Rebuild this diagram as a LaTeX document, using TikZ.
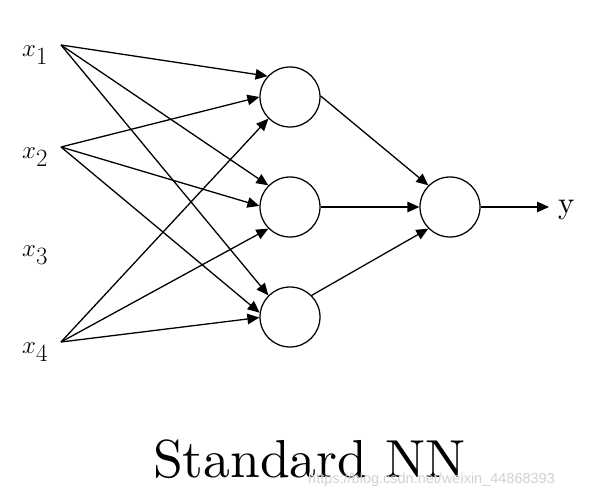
\documentclass[tikz,border=0pt]{standalone}
\usepackage{fontspec}
\newfontfamily\wmfont{Liberation Sans}
\newfontfamily\ttlfont{lmroman10-regular.otf}
\usetikzlibrary{arrows.meta}
\begin{document}
\begin{tikzpicture}[x=1pt,y=1pt,
  neuron/.style={draw,circle,line width=1.25pt,minimum size=60pt,inner sep=0pt},
  conn/.style={line width=1.3pt,-{Triangle[length=12pt,width=10.5pt]}},
  inlabel/.style={inner sep=0pt,font=\fontsize{35}{40}\selectfont}]
\useasboundingbox (0,0) rectangle (590,-497);
% input labels and tail points
\node[inlabel,anchor=base west] (l1) at (22,-57) {$x_1$};
\node[inlabel,anchor=base west] (l2) at (22,-159) {$x_2$};
\node[inlabel,anchor=base west] (l3) at (22,-257) {$x_3$};
\node[inlabel,anchor=base west] (l4) at (22,-354) {$x_4$};
\coordinate (i1) at (61,-45);
\coordinate (i2) at (61,-147);
\coordinate (i4) at (61,-342);
% neurons
\node[neuron] (h1) at (290,-97) {};
\node[neuron] (h2) at (290,-207) {};
\node[neuron] (h3) at (290,-317) {};
\node[neuron] (o) at (450,-207) {};
\node[anchor=base west,inner sep=0pt,font=\ttlfont\fontsize{31}{36}\selectfont] (y) at (558,-214) {y};
\coordinate (ye) at (549,-207);
% input connections
\draw[conn] (i1) -- (h1.137);
\draw[conn] (i1) -- (h2.135);
\draw[conn] (i1) -- (h3.135);
\draw[conn] (i2) -- (h1.180);
\draw[conn] (i2) -- (h2.178);
\draw[conn] (i2) -- (h3.172);
\draw[conn] (i4) -- (h1.225);
\draw[conn] (i4) -- (h2.225);
\draw[conn] (i4) -- (h3.181);
% hidden to output
\draw[conn] (h1.2) -- (o.135);
\draw[conn] (h2.0) -- (o.180);
\draw[conn] (h3.45) -- (o.225);
\draw[conn] (o.0) -- (ye);
% title
\node[anchor=base west,inner sep=0pt,font=\ttlfont\fontsize{53.5}{60}\selectfont] (t) at (153,-478) {Standard NN};
\node[anchor=base west,inner sep=0pt,text=black!18,font=\wmfont\fontsize{14.5}{16}\selectfont] (wm) at (308,-483) {https://blog.csdn.net/weixin\_44868393};
\end{tikzpicture}
\end{document}
